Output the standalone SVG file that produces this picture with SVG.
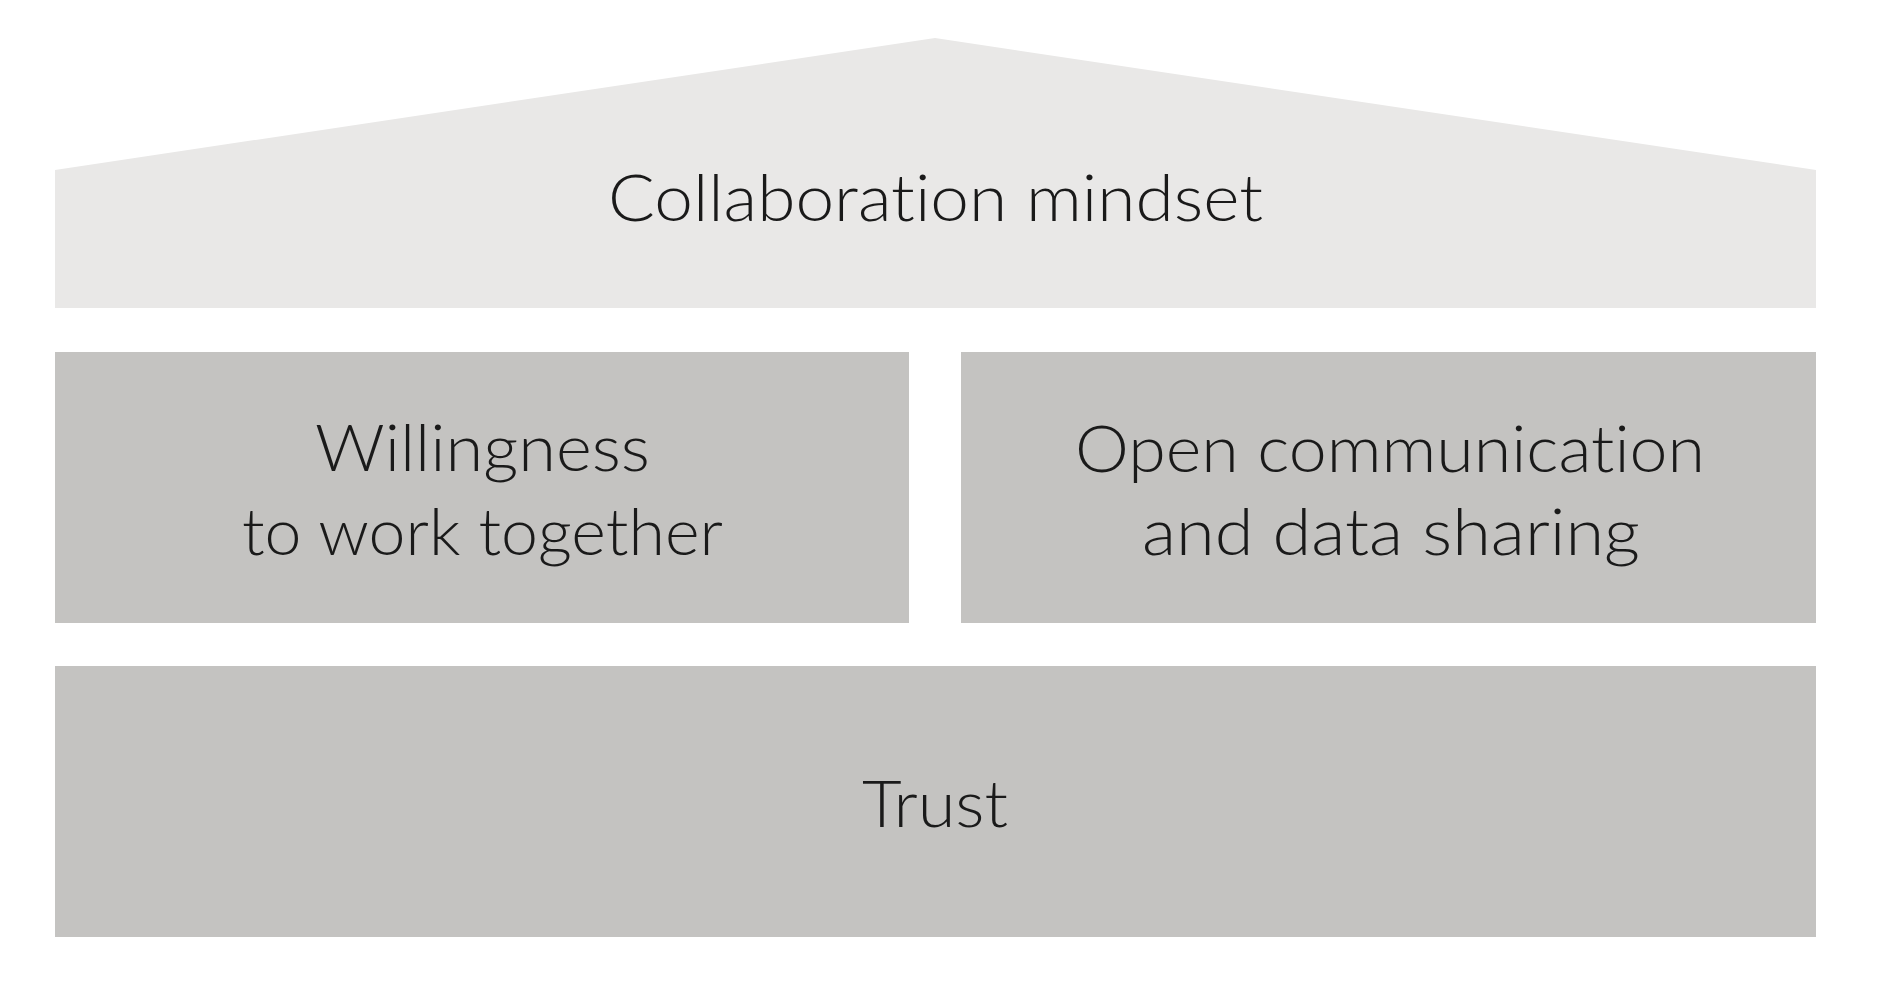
<svg xmlns="http://www.w3.org/2000/svg" width="1880" height="995" viewBox="0 0 1880 995">
  <style>
    .roof { fill: #E9E8E7; }
    .block { fill: #C4C3C1; }
    .label { font-family: "Lato Light", "Open Sans Light", "Roboto Light", "Inter", "Liberation Sans", sans-serif; font-weight: 300; font-size: 65px; fill: #1a1a1a; text-anchor: middle; font-variant-ligatures: none; font-feature-settings: "liga" 0, "clig" 0, "dlig" 0; }
  </style>
  <rect x="0" y="0" width="1880" height="995" fill="#FFFFFF"/>
  <g id="connectors"/>
  <g id="roof">
    <polygon class="roof" points="55,170 935,38 1816,170 1816,308 55,308"/>
    <text class="label" x="935.5" y="221" textLength="655" lengthAdjust="spacingAndGlyphs">Collaboration mindset</text>
  </g>
  <g id="willingness">
    <rect class="block" x="55" y="352" width="854" height="271"/>
    <text class="label" x="482.5" y="471" textLength="335" lengthAdjust="spacingAndGlyphs">Willingness</text>
    <text class="label" x="482.5" y="555" textLength="481" lengthAdjust="spacingAndGlyphs">to work together</text>
  </g>
  <g id="communication">
    <rect class="block" x="961" y="352" width="855" height="271"/>
    <text class="label" x="1390" y="472" textLength="630" lengthAdjust="spacingAndGlyphs">Open communication</text>
    <text class="label" x="1391" y="555" textLength="498" lengthAdjust="spacingAndGlyphs">and data sharing</text>
  </g>
  <g id="trust">
    <rect class="block" x="55" y="666" width="1761" height="271"/>
    <text class="label" x="935" y="827" textLength="146" lengthAdjust="spacingAndGlyphs">Trust</text>
  </g>
</svg>
